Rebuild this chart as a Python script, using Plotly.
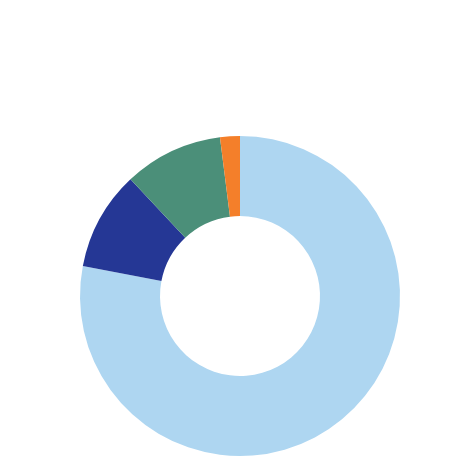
import plotly.graph_objects as go

categories = ["Category A", "Category B", "Category C", "Category D"]
values = [78, 10, 10, 2]
colors = ["#AED6F1", "#253795", "#4B8F79", "#F47F2A"]

W = H = 474
fig = go.Figure(go.Pie(
    labels=categories,
    values=values,
    hole=0.5,
    sort=False,
    direction="clockwise",
    rotation=0,
    marker=dict(colors=colors, line=dict(width=0)),
    textinfo="none",
    hoverinfo="label+value",
    domain=dict(x=[72 / W, 392 / W], y=[26 / H, 346 / H]),
))
fig.update_layout(
    width=W, height=H,
    margin=dict(l=0, r=0, t=0, b=0),
    showlegend=False,
    paper_bgcolor="white",
    plot_bgcolor="white",
)
fig.write_html("out.html")
